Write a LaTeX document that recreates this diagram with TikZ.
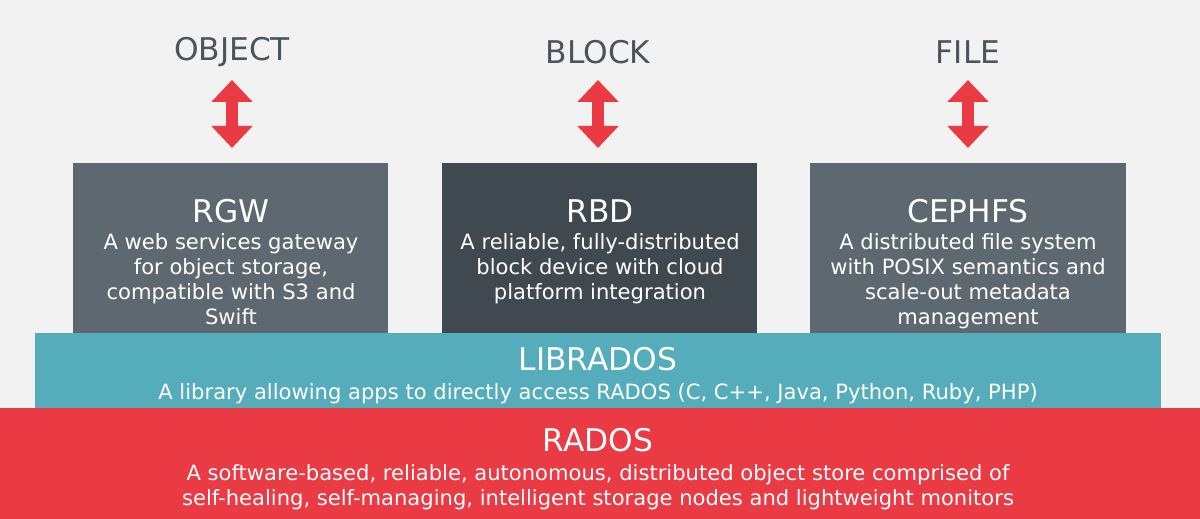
\documentclass[tikz,border=0pt]{standalone}
\usepackage{fontspec}
\setmainfont{DejaVu Sans}
\usetikzlibrary{arrows.meta, positioning}
\definecolor{bggray}{HTML}{F2F2F2}
\definecolor{boxgray}{HTML}{5E6870}
\definecolor{boxdark}{HTML}{414950}
\definecolor{libteal}{HTML}{55ACBA}
\definecolor{radred}{HTML}{EA3A44}
\definecolor{labgray}{HTML}{4A545C}
\tikzset{
    api/.style={text=labgray, font=\fontsize{17.8}{21}\selectfont},
    title/.style={text=white, font=\fontsize{17.8}{21}\selectfont},
    desc/.style={text=white, align=center, font=\fontsize{12}{14.3}\selectfont},
    dbl/.style={radred, line width=0.24cm, {Triangle[width=0.8cm,length=0.44cm]}-{Triangle[width=0.8cm,length=0.44cm]}}
}
\begin{document}
\begin{tikzpicture}[x=0.02cm, y=-0.02cm]
    \fill[bggray] (0,0) rectangle (1200,519);
    \useasboundingbox (0,0) rectangle (1200,519);

    % layers
    \fill[radred] (0,408) rectangle (1200,519);
    \fill[libteal] (35,333) rectangle (1161,408);
    \fill[boxgray] (73,163) rectangle (388,333);
    \fill[boxdark] (442,163) rectangle (757,333);
    \fill[boxgray] (810,163) rectangle (1126,333);

    % texts
    \node[title] (rgw) at (231,211) {RGW};
    \node[desc, below=-1pt of rgw] {A web services gateway\\for object storage,\\compatible with S3 and\\Swift};
    \node[title] (rbd) at (600,211) {RBD};
    \node[desc, below=-1pt of rbd] {A reliable, fully-distributed\\block device with cloud\\platform integration};
    \node[title] (cephfs) at (968,211) {CEPHFS};
    \node[desc, below=-1pt of cephfs] {A distributed file system\\with POSIX semantics and\\scale-out metadata\\management};
    \node[title] (librados) at (598,359) {LIBRADOS};
    \node[desc, below=0pt of librados] {A library allowing apps to directly access RADOS (C, C++, Java, Python, Ruby, PHP)};
    \node[title] (rados) at (598,440) {RADOS};
    \node[desc, below=0pt of rados] {A software-based, reliable, autonomous, distributed object store comprised of\\self-healing, self-managing, intelligent storage nodes and lightweight monitors};

    % interfaces
    \node[api] (object) at (232,52) {OBJECT};
    \node[api] (block) at (598,52) {BLOCK};
    \node[api] (file) at (968,52) {FILE};
    \coordinate (rgwtop) at (232,148);
    \coordinate (rbdtop) at (598,148);
    \coordinate (cephtop) at (968,148);
    \coordinate (objbot) at (232,80);
    \coordinate (blkbot) at (598,80);
    \coordinate (filbot) at (968,80);
    \draw[dbl] (objbot) -- (rgwtop);
    \draw[dbl] (blkbot) -- (rbdtop);
    \draw[dbl] (filbot) -- (cephtop);
\end{tikzpicture}
\end{document}
